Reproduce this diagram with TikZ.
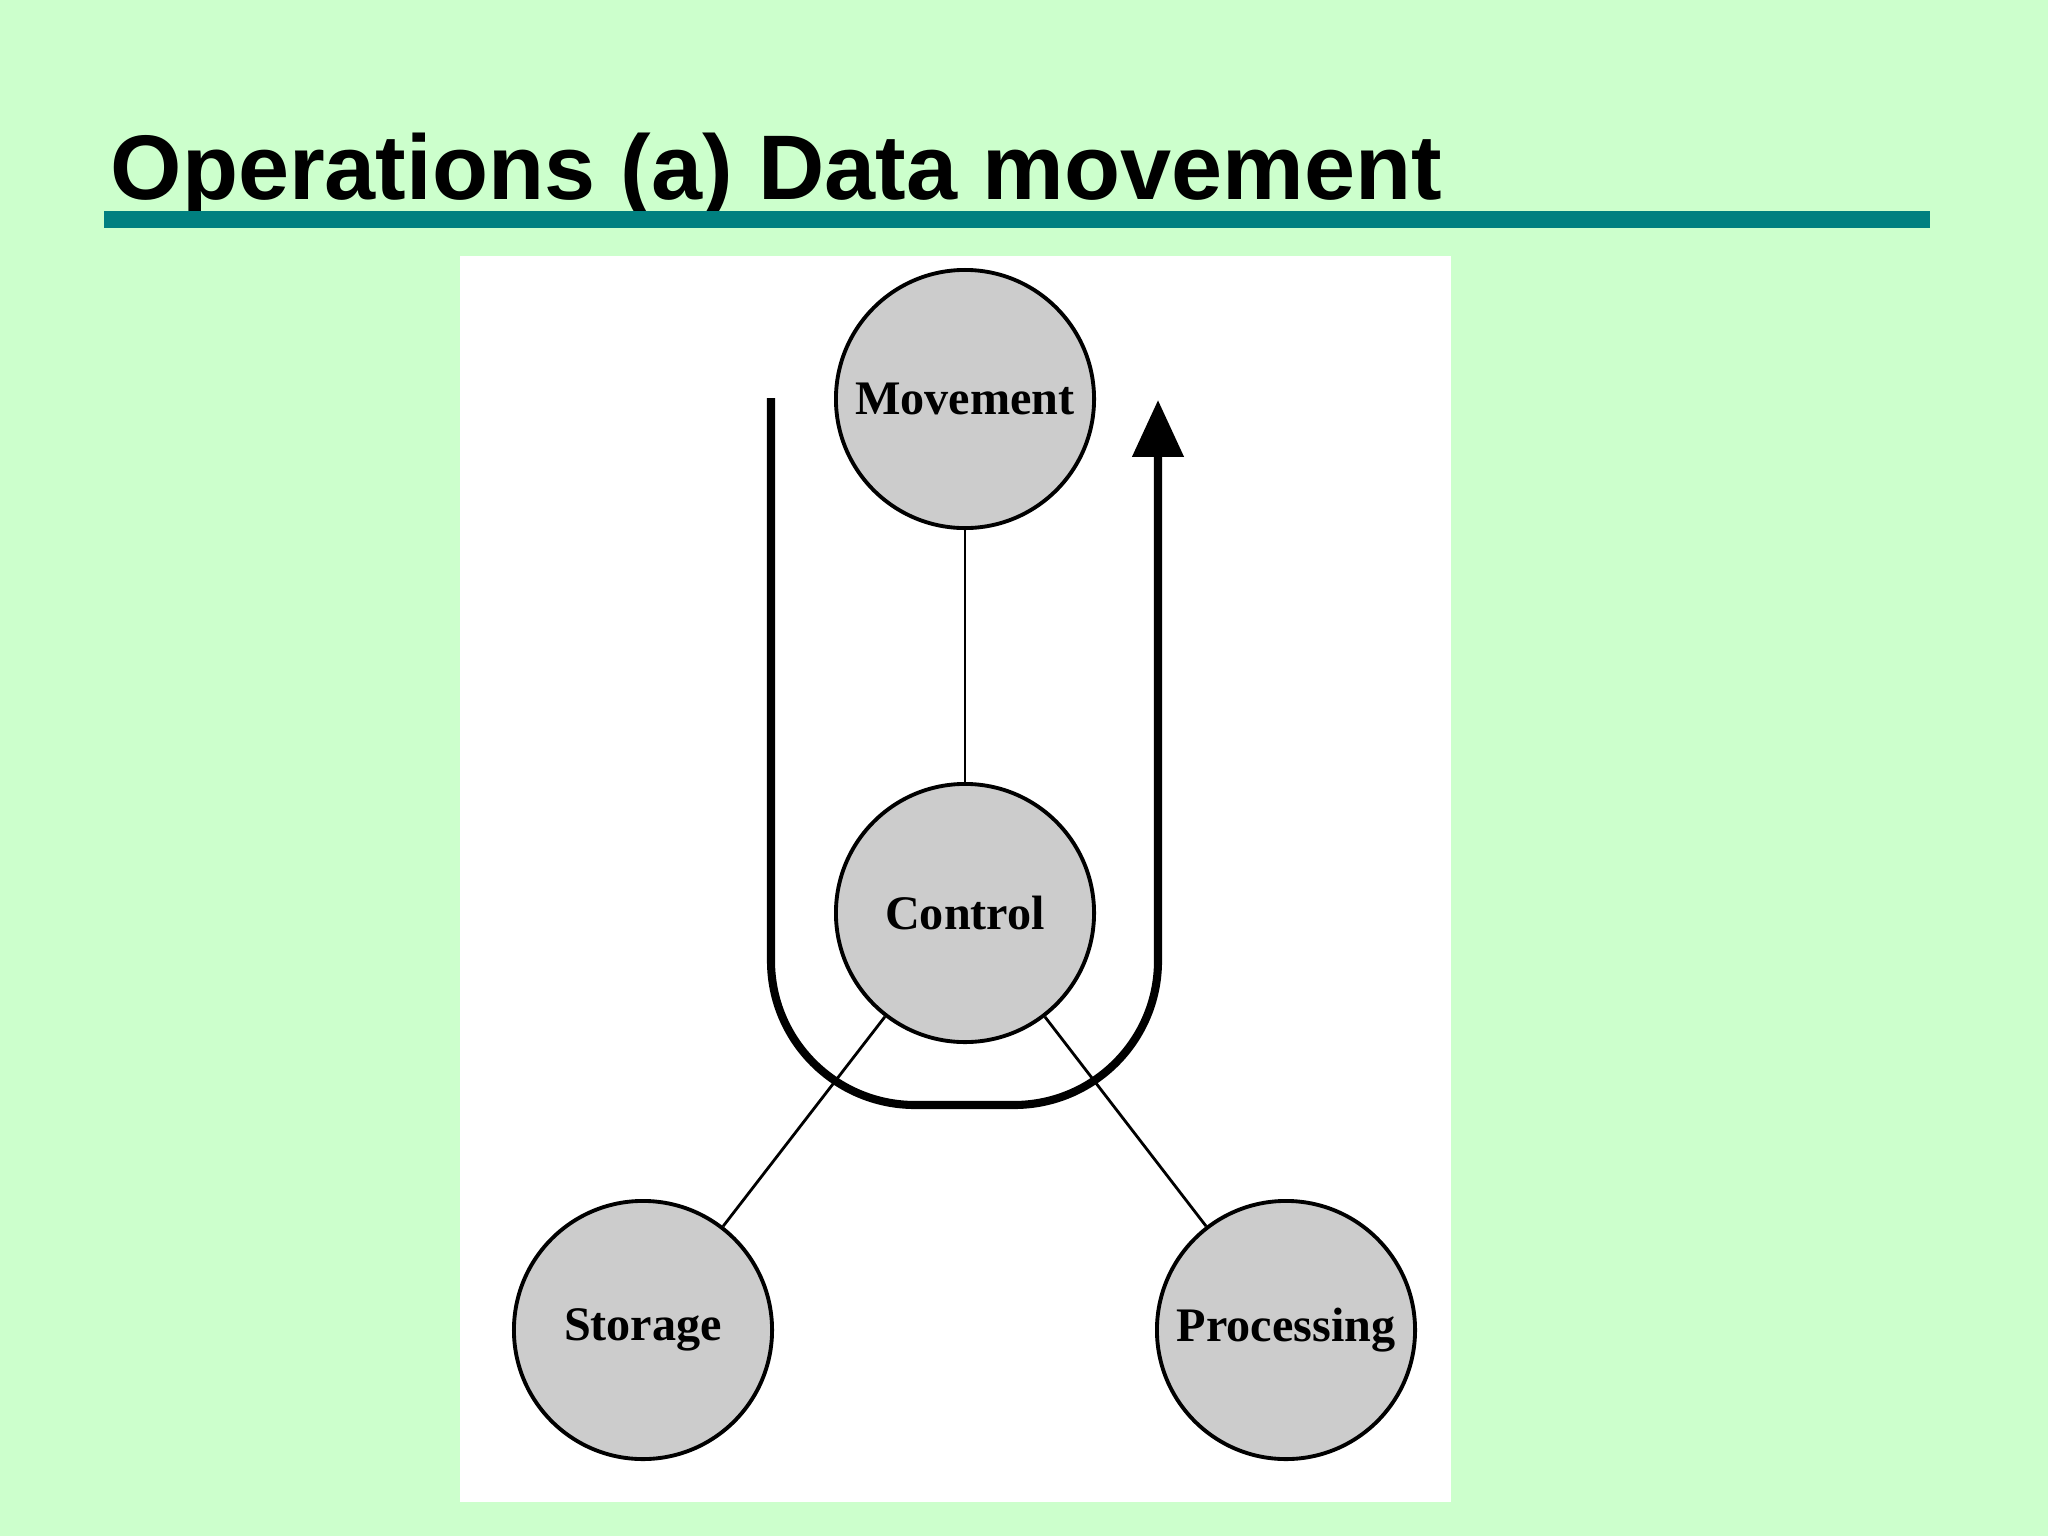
\documentclass[tikz,border=0pt]{standalone}
\usepackage{fontspec}
\setmainfont{Liberation Serif}
\newfontfamily\titlefont{Liberation Sans}
\usetikzlibrary{arrows.meta}
\definecolor{slidebg}{HTML}{CCFFCC}
\definecolor{barteal}{HTML}{008080}
\definecolor{nodegrey}{HTML}{CCCCCC}
\tikzset{
  opnode/.style={circle, draw=black, line width=1.1pt, fill=nodegrey, minimum size=2.58cm, inner sep=0pt,
    font=\fontsize{13.7}{16}\selectfont\bfseries},
  link/.style={line width=0.8pt, black},
  flow/.style={line width=2.3pt, rounded corners=41pt, -{Triangle[width=14.2pt, length=16.2pt]}}
}
\begin{document}
\begin{tikzpicture}[x=0.01cm, y=-0.01cm]
  \useasboundingbox (0,0) rectangle (2048,1536);
  \fill[slidebg] (0,0) rectangle (2048,1536);
  \node[anchor=base west, inner sep=0pt, font=\titlefont\fontsize{26.1}{30}\selectfont\bfseries] (title) at (110,199) {Operations (a) Data movement};
  \fill[barteal] (104,211) rectangle (1930,228);
  \fill[white] (460,256) rectangle (1451,1502);
  % nodes
  \node[opnode] (mov) at (965,399) {Movement};
  \node[opnode] (ctl) at (965,913) {Control};
  \node[opnode] (sto) at (643,1330) {Storage};
  \node[opnode] (pro) at (1286,1330) {Processing};
  % links
  \draw[link] (mov) -- (ctl);
  \draw[link] (ctl) -- (sto);
  \draw[link] (ctl) -- (pro);
  % flow arrow
  \coordinate (fstart) at (771,398);
  \coordinate (fbl) at (771,1105);
  \coordinate (fbr) at (1158,1105);
  \coordinate (fend) at (1158,400);
  \draw[flow] (fstart) -- (fbl) -- (fbr) -- (fend);
\end{tikzpicture}
\end{document}
